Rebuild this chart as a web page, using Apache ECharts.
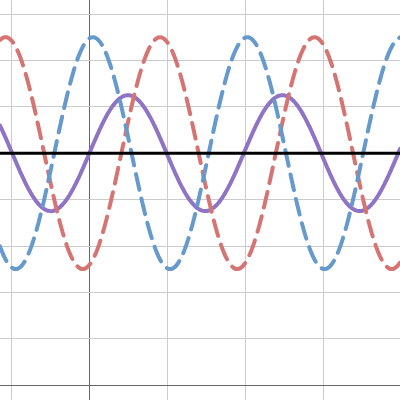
<!DOCTYPE html>
<html><head><meta charset="utf-8">
<script src="https://cdn.jsdelivr.net/npm/echarts@6/dist/echarts.min.js"></script>
<style>html,body{margin:0;padding:0;background:#fff}#c{width:400px;height:400px}</style>
</head><body><div id="c"></div>
<script>
// curve parameters: [center, amplitude, peakX, period]
var blueCurve = [5, 2.5, 0.05, 1.98];
var redCurve = [5, 2.5, 0.91, 1.98];
var purpleCurve = [5, 1.25, 0.5, 1.98];
var blackLevel = 5;
var xGrid = [-1, 0, 1, 2, 3];
var yGrid = [0, 1, 2, 3, 4, 5, 6, 7, 8];
var xMin = -1.141, xMax = 3.987, yMin = -0.32, yMax = 8.3;

function sample(p) {
  var pts = [];
  for (var x = xMin; x <= xMax + 0.005; x += 0.005) {
    pts.push([x, p[0] + p[1] * Math.cos(2 * Math.PI * (x - p[2]) / p[3])]);
  }
  return pts;
}
function curve(p, color, dashed) {
  return {
    type: 'line', data: sample(p), showSymbol: false, smooth: false, z: 5,
    lineStyle: { color: color, width: 4, type: dashed ? [16, 9] : 'solid', cap: 'round' }
  };
}
var gridLines = xGrid.map(function (v) {
  return { xAxis: v, lineStyle: { color: v === 0 ? '#666' : '#ccc', width: 1, type: 'solid' } };
}).concat(yGrid.map(function (v) {
  return { yAxis: v, lineStyle: { color: v === 0 ? '#666' : '#ccc', width: 1, type: 'solid' } };
}));

var chart = echarts.init(document.getElementById('c'));
chart.setOption({
  animation: false,
  grid: { left: 0, right: 0, top: 0, bottom: 0 },
  xAxis: { type: 'value', min: xMin, max: xMax, show: false },
  yAxis: { type: 'value', min: yMin, max: yMax, show: false },
  series: [
    { type: 'line', data: [], markLine: { silent: true, symbol: 'none', label: { show: false }, data: gridLines } },
    curve(purpleCurve, '#8e74c4', false),
    curve(redCurve, '#d57573', true),
    curve(blueCurve, '#6699cc', true),
    { type: 'line', data: [[xMin, blackLevel], [xMax, blackLevel]], showSymbol: false, z: 6,
      lineStyle: { color: '#000', width: 3 } }
  ]
});
</script></body></html>
